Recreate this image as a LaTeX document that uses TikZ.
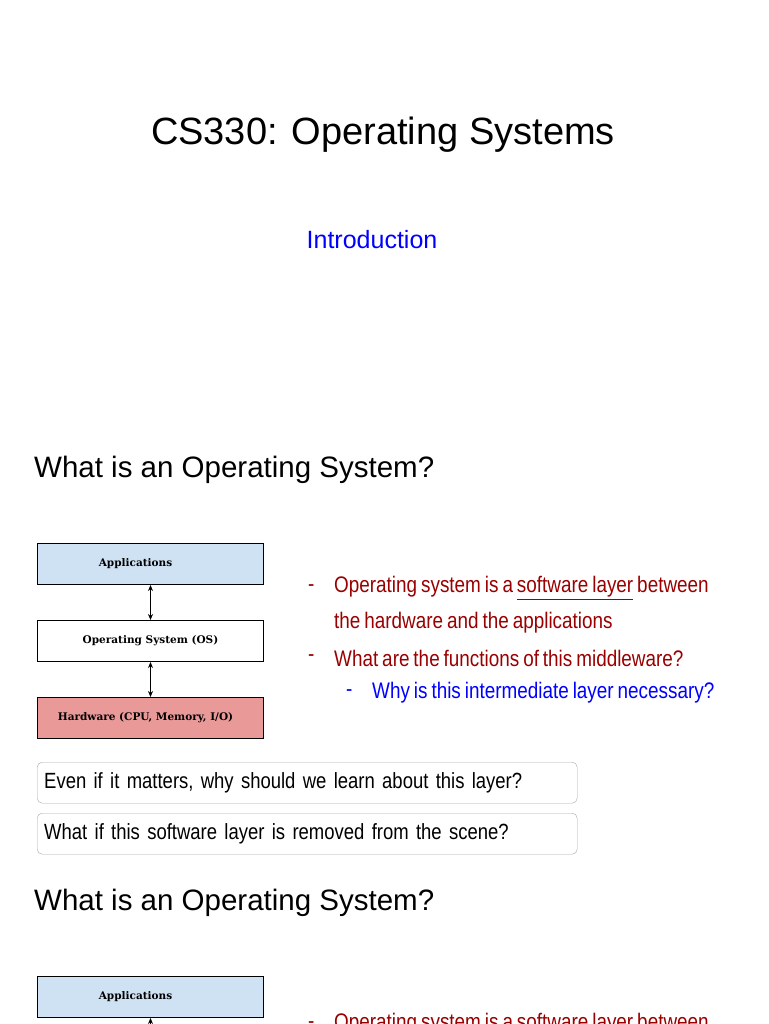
\documentclass[tikz,border=0pt]{standalone}
\usetikzlibrary{arrows.meta}
\usepackage{fontspec}
\setmainfont{Liberation Sans}
\newfontfamily\narrowf[FakeStretch=0.84,WordSpace=0.75]{Liberation Sans}
\newfontfamily\slabf{DejaVu Serif}
\definecolor{dred}{HTML}{990000}
\definecolor{lblue}{HTML}{CFE2F3}
\definecolor{lred}{HTML}{EA9999}
\begin{document}
\begin{tikzpicture}[x=1pt,y=-1pt,
 layer/.style={draw,line width=1pt,minimum width=226pt,minimum height=41pt,anchor=north west,font=\slabf\bfseries\fontsize{10.5}{12}\selectfont,inner sep=0pt},
 qbox/.style={draw=gray!70,rounded corners=5pt,minimum width=540pt,minimum height=41pt,anchor=north west,font=\narrowf\fontsize{22}{24}\selectfont,text width=526pt,align=left},
 bul/.style={anchor=west,font=\narrowf\fontsize{22.5}{24}\selectfont,text=dred,inner sep=0pt},
 sub/.style={anchor=west,font=\narrowf\fontsize{22.5}{24}\selectfont,text=blue,inner sep=0pt},
 dar/.style={<->,>={Stealth[length=6pt,width=5pt]},line width=1.2pt}]
\useasboundingbox (0,0) rectangle (768,1024);
\clip (0,0) rectangle (768,1024);
\node (title) at (383,135) {\fontsize{38}{42}\selectfont CS330: Operating Systems};
\node[text=blue] (intro) at (372,240) {\fontsize{25}{28}\selectfont Introduction};
\node[anchor=west,inner sep=0pt] (h1) at (34,470) {\fontsize{29.5}{32}\selectfont What is an Operating System?};
\node[layer,fill=lblue] (app) at (37,543) {\hspace*{-30pt}Applications};
\node[layer,fill=white] (os) at (37,620) {Operating System (OS)};
\node[layer,fill=lred] (hw) at (37,697) {\hspace*{-10pt}Hardware (CPU, Memory, I/O)};
\draw[dar] (app.south) -- (os.north);
\draw[dar] (os.south) -- (hw.north);
\node[bul] (b1d) at (308,588) {-};
\node[bul] (b1) at (334,588) {Operating system is a \underline{software layer} between};
\node[bul] (b1b) at (334,623) {the hardware and the applications};
\node[bul] (b2d) at (308,658) {-};
\node[bul] (b2) at (334,658) {What are the functions of this middleware?};
\node[sub] (s1d) at (346,693) {-};
\node[sub] (s1) at (372,693) {Why is this intermediate layer necessary?};
\node[qbox] (q1) at (37,762) {Even if it matters, why should we learn about this layer?};
\node[qbox] (q2) at (37,813) {What if this software layer is removed from the scene?};
\node[anchor=west,inner sep=0pt] (h2) at (34,903) {\fontsize{29.5}{32}\selectfont What is an Operating System?};
\node[layer,fill=lblue] (app2) at (37,976) {\hspace*{-30pt}Applications};
\coordinate (c2) at ([yshift=-20pt]app2.south);
\draw[dar] (app2.south) -- (c2);
\node[bul] (b3d) at (308,1025) {-};
\node[bul] (b3) at (334,1025) {Operating system is a \underline{software layer} between};
\end{tikzpicture}
\end{document}
